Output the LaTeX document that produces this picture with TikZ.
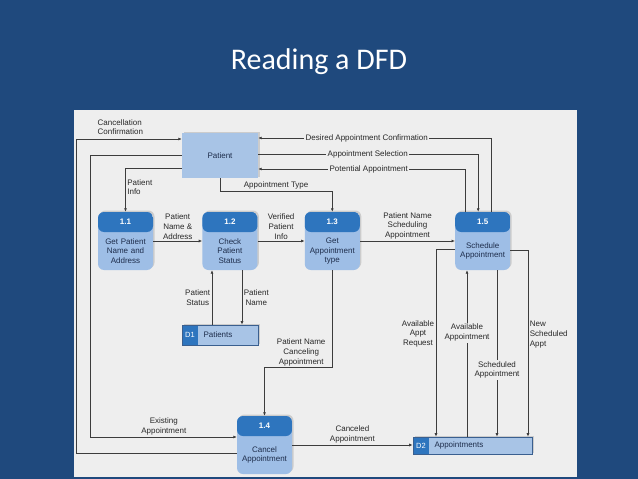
\documentclass[tikz,border=0pt]{standalone}
\usepackage{fontspec}
\setmainfont{Liberation Sans}
\newfontfamily\titlefont{Carlito}
\usepackage{tikz}
\usetikzlibrary{arrows.meta, positioning, shadows}
\definecolor{slideblue}{RGB}{31,73,125}
\definecolor{panelgray}{RGB}{238,238,238}
\definecolor{entityblue}{RGB}{168,196,230}
\definecolor{headblue}{RGB}{46,117,190}
\definecolor{bodyblue}{RGB}{158,190,230}
\definecolor{storeline}{RGB}{58,95,143}
\definecolor{flowgray}{RGB}{60,60,60}
\definecolor{inkblue}{RGB}{30,45,75}
\definecolor{labelink}{RGB}{40,40,40}

\begin{document}
\begin{tikzpicture}[x=1pt, y=-1pt,
        node distance=49pt,
        entity/.style={rectangle, fill=entityblue, minimum width=76pt, minimum height=45pt,
                       font=\fontsize{8}{9.6}\selectfont, text=inkblue,
                       drop shadow={shadow xshift=1.5pt, shadow yshift=1.5pt, opacity=0.3}},
        process/.style={rectangle, rounded corners=6pt, fill=bodyblue, minimum width=55pt, minimum height=58pt,
                        text width=52pt, inner sep=1.5pt, align=center, font=\fontsize{8}{9.6}\selectfont, text=inkblue,
                        drop shadow={shadow xshift=1.5pt, shadow yshift=1.5pt, opacity=0.3},
                        path picture={\fill[headblue] (path picture bounding box.north west)
                                      rectangle ([yshift=-20pt]path picture bounding box.north east);},
                        execute at begin node={\rule{0pt}{26pt}},
                        label={[procnum]north:#1}},
        procnum/.style={anchor=center, yshift=-10pt, text=white, font=\fontsize{8}{9.6}\selectfont\bfseries},
        store/.style={rectangle, fill=entityblue, draw=storeline, line width=0.6pt, minimum height=20pt,
                      align=left, font=\fontsize{8}{9.6}\selectfont, text=inkblue,
                      drop shadow={shadow xshift=1.5pt, shadow yshift=1.5pt, opacity=0.3},
                      path picture={\fill[headblue] (path picture bounding box.north west)
                                    rectangle ([xshift=16pt]path picture bounding box.south west);},
                      label={[storeid]west:#1}},
        storeid/.style={anchor=west, minimum width=16pt, inner sep=0pt, text=white, font=\fontsize{7.5}{9}\selectfont},
        lbl/.style={font=\fontsize{8}{9.6}\selectfont, text=labelink, align=center, inner sep=1.5pt},
        gaplbl/.style={lbl, fill=panelgray},
        flow/.style={draw=flowgray, line width=0.7pt, -{Latex[length=3.5pt, width=3pt]}}
    ]
        % slide and panel
        \fill [slideblue] (0,0) rectangle (638,479);
        \fill [panelgray] (74,110) rectangle (577,477);
        \node [font=\titlefont\fontsize{30}{36}\selectfont, text=white] (title) at (319,62) {Reading a DFD};

        % entity, processes, stores
        \node [entity] (patient) at (220,155.5) {Patient};
        \node [process=1.1] (p11) at (125.5,241) {Get Patient\\Name and\\Address};
        \node [process=1.2, right=49pt of p11] (p12) {Check\\Patient\\Status};
        \node [process=1.3, right=47pt of p12] (p13) {Get\\Appointment\\type};
        \node [process=1.5, right=95pt of p13] (p15) {Schedule\\Appointment};
        \node [process=1.4] (p14) at (264.5,445) {Cancel\\Appointment};
        \node [store=D1, minimum width=76pt, text width=69pt] (d1) at (220,335) {\hspace*{18pt}Patients};
        \node [store=D2, minimum width=119pt, minimum height=17pt, text width=112pt] (d2) at (472.5,445.5) {\hspace*{18pt}Appointments};

        % flows around the patient
        \path [flow] ([yshift=-8pt]p14.west) -| ([xshift=-105pt, yshift=16.5pt]patient.west) -- ([yshift=16.5pt]patient.west);
        \node [lbl, anchor=west, align=left] (lcancel) at (96,127) {Cancellation\\Confirmation};
        \path [flow] (patient.west) -- ++(-91,0) |- ([yshift=8pt]p14.west)
              node [pos=0.75, above, lbl] {Existing\\Appointment};
        \path [flow] ([yshift=-12.5pt]patient.west) -| (p11.north)
              node [pos=0.72, right, lbl, align=left] {Patient\\Info};
        \path [flow] (patient.south) -- ++(0,13) -| (p13.north)
              node [pos=0.25, above, lbl] {Appointment Type};
        \path [flow] ([xshift=8.5pt]p15.north) |- ([yshift=17.5pt]patient.east)
              node [pos=0.767, gaplbl] {Desired Appointment Confirmation};
        \path [flow] ([yshift=1.5pt]patient.east) -| ([xshift=-4.5pt]p15.north)
              node [pos=0.249, gaplbl] {Appointment Selection};
        \path [flow] ([xshift=-17.5pt]p15.north) |- ([yshift=-13.5pt]patient.east)
              node [pos=0.733, gaplbl] {Potential Appointment};

        % flows between processes
        \path [flow] (p11) -- (p12) node [midway, above, lbl] {Patient\\Name \&\\Address};
        \path [flow] (p12) -- (p13) node [midway, above, lbl] {Verified\\Patient\\Info};
        \path [flow] (p13) -- (p15) node [midway, above, lbl] {Patient Name\\Scheduling\\Appointment};
        \path [flow] (p13.south) -- ++(0,97.5)
              node [anchor=south east, xshift=-5pt, lbl] {Patient Name\\Canceling\\Appointment} -| (p14.north);

        % flows to and from stores
        \path [flow] ([xshift=-8pt]d1.north) -- ([xshift=-8pt]d1.north |- p12.south)
              node [midway, left, lbl] {Patient\\Status};
        \path [flow] ([xshift=22pt]d1.north |- p12.south) -- ([xshift=22pt]d1.north)
              node [midway, right, lbl] {Patient\\Name};
        \path [flow] (p14.east) -- (p14.east -| d2.west) node [midway, above, lbl] {Canceled\\Appointment};
        \path [flow] ([yshift=-8.5pt]p15.west) -| ([xshift=-36.5pt]d2.north)
              node [pos=0.725, left, lbl] {Available\\Appt\\Request};
        \path [flow] ([xshift=-5.5pt]d2.north) -- ([xshift=-5.5pt]d2.north |- p15.south)
              node [pos=0.625, gaplbl] {Available\\Appointment};
        \path [flow] ([xshift=24.5pt]d2.north |- p15.south) -- ([xshift=24.5pt]d2.north)
              node [pos=0.6, gaplbl] {Scheduled\\Appointment};
        \path [flow] ([yshift=-9.5pt]p15.east) -| ([xshift=55.5pt]d2.north)
              node [pos=0.726, right, lbl, align=left] {New\\Scheduled\\Appt};
    \end{tikzpicture}
\end{document}
